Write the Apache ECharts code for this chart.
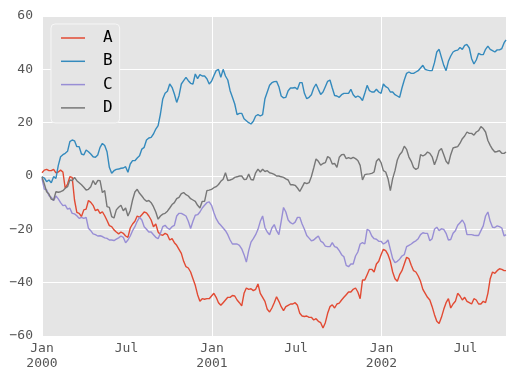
<!DOCTYPE html>
<html>
<head>
<meta charset="utf-8">
<script src="https://cdn.jsdelivr.net/npm/echarts@6/dist/echarts.min.js"></script>
<style>html,body{margin:0;padding:0;background:#fff}#c{width:516px;height:380px}</style>
</head>
<body>
<div id="c"></div>
<script>
// sample positions: days since 2000-01-01
var days = [
0,5,10,15,20,25,30,35,40,45,
50,55,60,65,70,75,80,85,90,95,
100,105,110,115,120,125,130,135,140,145,
150,155,160,165,170,175,180,185,190,195,
200,205,210,215,220,225,230,235,240,245,
250,255,260,265,270,275,280,285,290,295,
300,305,310,315,320,325,330,335,340,345,
350,355,360,365,370,375,380,385,390,395,
400,405,410,415,420,425,430,435,440,445,
450,455,460,465,470,475,480,485,490,495,
500,505,510,515,520,525,530,535,540,545,
550,555,560,565,570,575,580,585,590,595,
600,605,610,615,620,625,630,635,640,645,
650,655,660,665,670,675,680,685,690,695,
700,705,710,715,720,725,730,735,740,745,
750,755,760,765,770,775,780,785,790,795,
800,805,810,815,820,825,830,835,840,845,
850,855,860,865,870,875,880,885,890,895,
900,905,910,915,920,925,930,935,940,945,
950,955,960,965,970,975,980,985,990,995,
999];

var seriesA = [
1.2,2.2,2.5,2,2,2.5,1.2,1.5,2.2,1.5,
-4.6,-3,-0.3,-0.5,-9,-13.6,-14,-15.2,-12.7,-12.4,
-9.2,-9.9,-11,-13,-12.5,-14,-13.4,-14.9,-16.7,-18.6,
-19,-20.2,-21,-21.7,-21,-21.5,-22.5,-23,-19.5,-18,
-17,-15,-15.5,-14.5,-13.5,-13.8,-15,-16.5,-19,-18,
-21,-22,-22.2,-21.5,-22,-24,-23.5,-25,-26,-27.5,
-29,-32,-34,-34.5,-36,-38.5,-41,-44.5,-47,-46,
-46.2,-46,-46,-45,-44,-45.5,-47.5,-48.5,-47.5,-46.5,
-45.5,-45.5,-44.8,-45,-46.5,-47.5,-48.7,-44,-42,-42.5,
-42.3,-43,-42.5,-40.5,-44,-45.5,-47,-50,-51,-49.5,
-47.5,-45.3,-47,-49,-50.5,-49,-48.5,-48,-48,-47.5,
-48.5,-51.5,-52.5,-52.7,-52.5,-53,-53,-54,-53.5,-54.5,
-55,-57,-55,-51.5,-49,-48.3,-49.5,-48,-47.7,-46.5,
-45.5,-44.5,-43.5,-43.5,-42.5,-42,-43.5,-46,-39,-39,
-37,-35,-35,-36,-33,-32,-29.5,-27.5,-28,-29.5,
-32,-36,-38.5,-39.5,-37,-35.5,-33,-30.5,-31,-33.5,
-35.5,-36,-37.5,-39.5,-42.5,-44,-45.5,-46.5,-49,-52,
-54.5,-55.3,-53,-50,-47.5,-46,-49.5,-48,-47,-44,
-45,-46.5,-45.5,-47,-47.5,-48,-46,-46.5,-48,-48,
-47,-47.5,-44,-38.5,-36,-36.5,-35.5,-34.8,-35,-35.5,
-35.5];

var seriesB = [
-0.3,-0.75,-2.1,-1.5,-2.5,-0.25,-0.9,3.9,7.2,8,
8.5,9.25,12.9,13.5,13.2,11,11,8.25,7.9,9.75,
9.1,8.25,7.2,7,7.9,10.75,12.2,11.4,9.1,3.25,
1,2,2.5,2.6,2.9,3,3.5,1.4,4.5,5.75,
5.75,6.75,7.6,10.1,10.75,13.5,14.25,14.5,15.75,17.6,
18.9,23.25,28.9,31,31.75,34.5,33.25,30.75,27.6,30.1,
34.5,35.75,37,35.75,34.75,34.5,38.25,36.5,38,37.5,
37.5,36.5,34.5,35.5,37.6,39.5,40,37,40,37.5,
36,32,29.5,27,23,23.5,23.5,21.5,20.75,20,
19.5,20.5,22.5,23,22.5,23,29,31.5,34,35,
35.4,35.5,33.5,30,29.3,29.5,32,33,33,33.2,
32.5,35,35,31,29,29.5,30.5,33,34.5,32.5,
30.6,31.5,33.5,35.5,36,33,30.2,30,29.5,30.5,
31,31,31,32.5,30.5,29.5,30,29.5,28.3,31,
34,32,31.5,31.5,32.5,31.5,31,34.5,33.5,33,
31.5,31.5,30.5,30,29.5,33,36,38.5,39,38.5,
38.5,39,39.5,40.5,41.5,40,39.7,39.5,39.5,42.5,
46.5,47.5,44.5,41.5,39.5,43,45,46.5,47,47.2,
48.2,47.5,49,49.3,48,44,42,43.5,46,45.5,
45.5,47.5,48.7,47.5,47,46.5,47.3,47.3,47.8,50,
51];

var seriesC = [
-0.9,-4.9,-5.2,-7.4,-8,-9.25,-7.5,-8.6,-10,-11.1,
-10.9,-12.4,-12.1,-14,-14.2,-14.9,-15.9,-15.5,-15.9,-15.5,
-19.6,-20.5,-21.7,-22,-22.5,-22.4,-22.7,-23.2,-23.4,-24,
-24,-24.2,-23.7,-23.2,-22.5,-23,-25,-24,-22.5,-20.5,
-19,-17,-15.5,-16.5,-19,-20,-21,-21,-22,-23,
-23.5,-21.5,-19,-18.5,-19.5,-20,-19,-18.5,-15,-14,
-14,-14.5,-15,-17,-19.7,-17,-14.7,-14.5,-13.5,-12,
-11,-10,-9.7,-11,-13.7,-16,-17.5,-18.5,-19.5,-20.5,
-22,-24,-25.5,-25.5,-25.5,-26,-27.3,-29.5,-32.3,-28,
-24.8,-23.5,-22,-20,-17,-15,-19.3,-21,-22,-19.5,
-18.2,-20.5,-22,-17,-11.8,-13.5,-16.5,-17.5,-18,-17.3,
-15.5,-15.5,-18,-20,-22.3,-23.3,-24.3,-24,-23.2,-22.5,
-24.4,-25,-26.3,-26.5,-26.5,-25,-26.5,-26.8,-28,-29.5,
-30.3,-33.5,-34,-33,-33,-30,-28.5,-25.5,-25,-25.5,
-20,-20.5,-22.5,-23.5,-23.7,-24.5,-24.5,-25.5,-25,-24,
-27.5,-31,-32.5,-32,-31.2,-30,-29.5,-26.5,-26,-25.5,
-24.8,-24.3,-23.5,-22,-21.3,-21.5,-21.5,-24.3,-23.5,-20,
-19.2,-20.5,-19.8,-20,-21.5,-24,-23.8,-21.5,-20.5,-18.5,
-17.5,-16.5,-18,-22,-22,-22,-22.2,-22.3,-22.3,-20.5,
-18.7,-15,-13.5,-17,-19.2,-19.3,-18.7,-19,-19.5,-22.5,
-22];

var seriesD = [
-0.3,-3,-5.9,-6.75,-8.7,-9,-5.9,-6.1,-5.9,-5.5,
-4.6,-4,-1.5,-1.75,-0.5,-1.75,-2.5,-3.25,-4.2,-5.25,
-5,-4,-1.7,-3.25,-1.7,-1.75,-6.2,-5.5,-11.5,-11.75,
-15.2,-15.75,-12.7,-11.75,-11,-13,-12,-15,-13,-9,
-6,-5,-6.5,-7.5,-8.7,-9.5,-9.2,-10,-11.5,-13.5,
-16.2,-15,-14.3,-14,-13.2,-12,-10.7,-10,-8.5,-8,
-6.6,-6.2,-7,-7.5,-8.5,-9,-9.5,-11,-12,-9.5,
-9.5,-5.5,-5.3,-5,-4.4,-4,-3.2,-2,-1.2,1.2,
-1.7,-1.5,-1.2,-0.5,-0.3,0,0,-1.3,-1.2,0.7,
-1.3,-1.5,1.2,2.6,1.5,2.5,1.7,2,1.2,1,
0.6,0,0,-0.3,-0.5,-1.1,-1.5,-3.3,-3.3,-3.5,
-4.5,-5.8,-4.2,-2.5,-2.9,-2.5,-0.2,3,6.4,5.5,
4.1,4.7,5,7.3,6.7,4.5,4.7,3.2,7,8,
8.1,6.5,6.9,6.5,7,6.5,5.8,4,-1.5,0.5,
0.7,0.8,1,1.5,5.5,6.5,5,2,1.5,-1,
-5.5,-1,2,6,8,9,11.2,10,7.1,5.5,
3.2,2.5,3,8,7.5,8,9,8.5,7.2,4.2,
6.5,9.5,10.3,8,5.5,4.5,8,10.5,10.8,11,
12.3,14,15,16.5,16,16,15.3,16.5,17,18.5,
17.8,16.5,13.3,11.5,10,9,9.2,9.5,8.5,8.5,
9];

var seriesNames = ['A','B','C','D'];
var seriesColors = ['#E24A33','#348ABD','#988ED5','#777777'];

var xTickDays = [0,182,366,547,731,912];
var xTickLabels = ['Jan\n2000','Jul','Jan\n2001','Jul','Jan\n2002','Jul'];
var xMajorDays = [0,366,731];

function pairs(vals){ return days.map(function(d,i){ return [d, vals[i]]; }); }
var allVals = [seriesA, seriesB, seriesC, seriesD];

var chart = echarts.init(document.getElementById('c'), null, {renderer:'canvas'});
var font = 'DejaVu Sans Mono';
chart.setOption({
  animation:false,
  backgroundColor:'#ffffff',
  grid:{left:42,right:10,top:16,bottom:44,show:true,backgroundColor:'#E5E5E5',borderWidth:0},
  xAxis:{
    type:'value', min:0, max:999,
    axisLine:{show:false},
    axisTick:{show:false, customValues:xMajorDays},
    splitLine:{show:true,lineStyle:{color:'#ffffff',width:1}},
    axisLabel:{customValues:xTickDays, color:'#555555', fontFamily:font, fontSize:13, lineHeight:15, margin:5,
      formatter:function(v){ var i = xTickDays.indexOf(Math.round(v)); return i>=0 ? xTickLabels[i] : ''; }}
  },
  yAxis:{
    type:'value', min:-60, max:60, interval:20,
    axisLine:{show:false}, axisTick:{show:false},
    splitLine:{show:true,lineStyle:{color:'#ffffff',width:1}},
    axisLabel:{color:'#555555', fontFamily:font, fontSize:13, margin:9,
      formatter:function(v){ return String(v).replace('-','\u2212'); }}
  },
  legend:{
    orient:'vertical', left:51, top:24,
    padding:[6,7,7,10], itemGap:7.3, itemWidth:24, itemHeight:1.5, icon:'rect',
    backgroundColor:'#E5E5E5', borderColor:'#f6f6f6', borderWidth:1, borderRadius:4,
    textStyle:{fontFamily:font, fontSize:16, lineHeight:16, color:'#000000', padding:[0,0,0,13]},
    data:seriesNames
  },
  series: seriesNames.map(function(n,i){
    return {name:n, type:'line', data:pairs(allVals[i]), symbol:'none', showSymbol:false,
      lineStyle:{color:seriesColors[i], width:1.4}, itemStyle:{color:seriesColors[i]}};
  })
});
</script>
</body>
</html>
